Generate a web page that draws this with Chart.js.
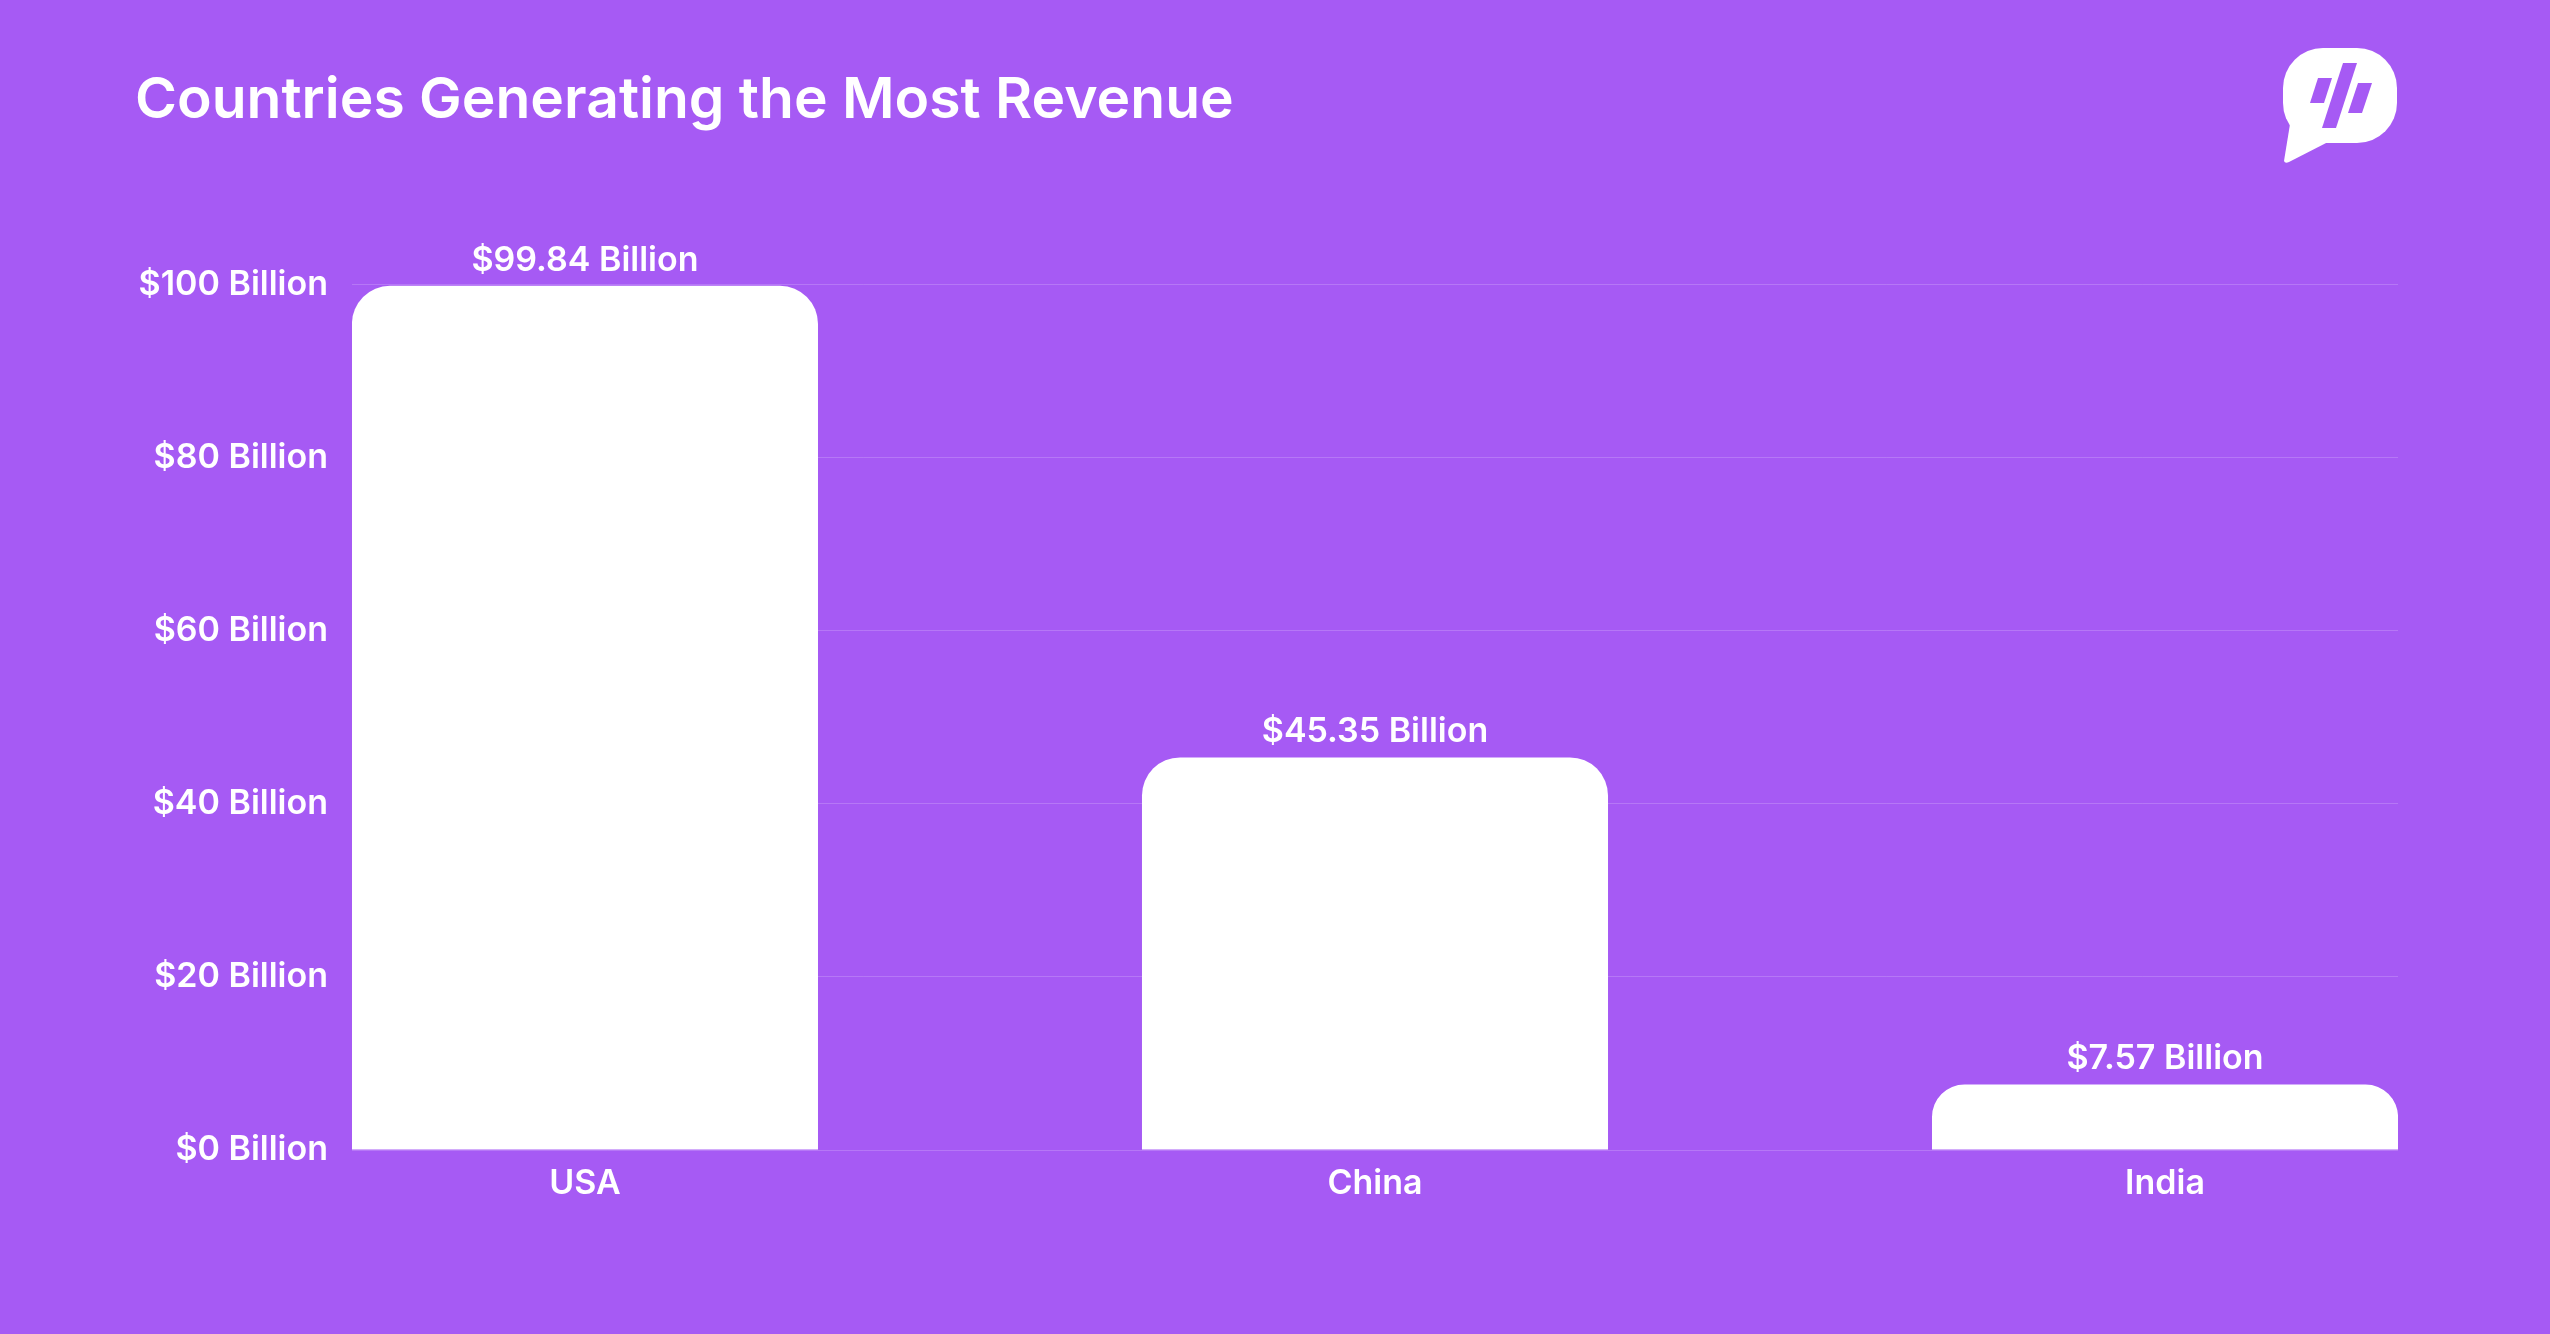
<!DOCTYPE html>
<html>
<head>
<meta charset="utf-8">
<script src="https://cdn.jsdelivr.net/npm/chart.js@4"></script>
<style>
  html, body { margin: 0; padding: 0; background: #A65AF4; }
  #wrap { width: 2550px; height: 1334px; position: relative; }
</style>
</head>
<body>
<div id="wrap"><canvas id="c"></canvas></div>
<script>
const titleText = 'Countries Generating the Most Revenue';
const categories = ['USA', 'China', 'India'];
const revenue = [99.84, 45.35, 7.57];
const yTicks = [0, 20, 40, 60, 80, 100];

const BG = '#A65AF4';
const FONT = 'Inter';

const bgPlugin = {
  id: 'bg',
  beforeDraw(chart) {
    const ctx = chart.ctx;
    ctx.save();
    ctx.fillStyle = BG;
    ctx.fillRect(0, 0, chart.width, chart.height);
    ctx.restore();
  }
};

const valueLabels = {
  id: 'valueLabels',
  afterDatasetsDraw(chart) {
    const ctx = chart.ctx;
    const meta = chart.getDatasetMeta(0);
    ctx.save();
    ctx.fillStyle = '#ffffff';
    ctx.font = '600 34px ' + FONT;
    ctx.textAlign = 'center';
    ctx.textBaseline = 'alphabetic';
    meta.data.forEach((bar, i) => {
      ctx.fillText('$' + revenue[i] + ' Billion', bar.x, bar.y - 15);
    });
    ctx.restore();
  }
};

const logo = {
  id: 'logo',
  afterDraw(chart) {
    const ctx = chart.ctx;
    ctx.save();
    ctx.fillStyle = '#ffffff';
    const x = 2283, y = 48, w = 114, h = 95, r = 40;
    ctx.beginPath();
    ctx.moveTo(x + r, y);
    ctx.lineTo(x + w - r, y);
    ctx.arcTo(x + w, y, x + w, y + r, r);
    ctx.lineTo(x + w, y + h - r);
    ctx.arcTo(x + w, y + h, x + w - r, y + h, r);
    ctx.lineTo(x + r, y + h);
    ctx.arcTo(x, y + h, x, y + h - r, r);
    ctx.lineTo(x, y + r);
    ctx.arcTo(x, y, x + r, y, r);
    ctx.closePath();
    ctx.fill();
    ctx.beginPath();
    ctx.moveTo(2291, 118);
    ctx.lineTo(2284, 161);
    ctx.quadraticCurveTo(2285, 164, 2289, 162);
    ctx.lineTo(2330, 141);
    ctx.closePath();
    ctx.fill();
    ctx.fillStyle = BG;
    const para = (tx1, tx2, ty, bx1, bx2, by) => {
      ctx.beginPath();
      ctx.moveTo(tx1, ty); ctx.lineTo(tx2, ty);
      ctx.lineTo(bx2, by); ctx.lineTo(bx1, by);
      ctx.closePath(); ctx.fill();
    };
    para(2318, 2332, 78, 2310, 2324, 103);
    para(2343, 2357, 63, 2322, 2336, 128);
    para(2358, 2372, 83, 2348, 2362, 113);
    ctx.restore();
  }
};

const halfBar = 0.2949;

new Chart(document.getElementById('c'), {
  type: 'bar',
  data: {
    labels: categories,
    datasets: [{
      data: revenue.map((v, i) => ({ x: i, y: v })),
      backgroundColor: '#ffffff',
      borderWidth: 0,
      borderRadius: { topLeft: 38, topRight: 38, bottomLeft: 0, bottomRight: 0 },
      borderSkipped: 'bottom',
      categoryPercentage: 1,
      barPercentage: 0.5899
    }]
  },
  options: {
    responsive: true,
    maintainAspectRatio: false,
    animation: false,
    devicePixelRatio: 1,
    layout: { padding: { left: 135, right: 152, top: 0, bottom: 64 } },
    plugins: {
      legend: { display: false },
      tooltip: { enabled: false },
      title: {
        display: true,
        text: titleText,
        align: 'start',
        color: '#ffffff',
        font: { family: FONT, size: 57, weight: '600', lineHeight: 1.2 },
        padding: { top: 67, bottom: 149 }
      }
    },
    scales: {
      x: {
        type: 'linear',
        offset: false,
        min: -halfBar,
        max: categories.length - 1 + halfBar,
        grid: { display: false, drawTicks: false, offset: false },
        border: { display: false },
        afterBuildTicks(scale) { scale.ticks = categories.map((c, i) => ({ value: i })); },
        ticks: {
          color: '#ffffff',
          font: { family: FONT, size: 34, weight: '600' },
          padding: 13,
          autoSkip: false,
          maxRotation: 0,
          callback: (v) => categories[v] !== undefined ? categories[v] : ''
        },
        afterFit(scale) { scale.height = 120; }
      },
      y: {
        min: 0,
        max: 100,
        grid: { color: 'rgba(255,255,255,0.18)', lineWidth: 1, drawTicks: false },
        border: { display: false },
        afterBuildTicks(scale) { scale.ticks = yTicks.map(v => ({ value: v })); },
        ticks: {
          color: '#ffffff',
          font: { family: FONT, size: 34, weight: '600' },
          padding: 24,
          callback: (v) => '$' + v + ' Billion'
        },
        afterFit(scale) { scale.width = 217; }
      }
    }
  },
  plugins: [bgPlugin, valueLabels, logo]
});
</script>
</body>
</html>
